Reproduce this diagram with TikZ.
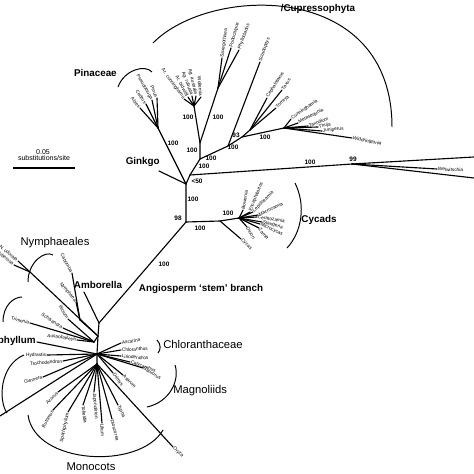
\documentclass[tikz,border=0pt]{standalone}
\usepackage{fontspec}
\setmainfont{Liberation Sans}
\tikzset{
  br/.style={line width=0.8pt, line cap=round},
  leaf/.style={font=\fontsize{3.4}{4}\selectfont, inner sep=0.5pt},
  boot/.style={font=\bfseries\fontsize{4.6}{5}\selectfont, inner sep=0.5pt},
  grp/.style={font=\fontsize{8}{9}\selectfont, inner sep=0pt},
  bgrp/.style={font=\bfseries\fontsize{7}{8}\selectfont, inner sep=0pt},
  brace/.style={line width=0.7pt},
}
\begin{document}
\begin{tikzpicture}[x=0.025cm, y=-0.025cm]
        \useasboundingbox (0,0) rectangle (474,474);

        % gymnosperm backbone
        \coordinate (g98) at (186,222);
        \coordinate (gA) at (186,184);
        \coordinate (gB) at (190,175);
        \coordinate (gC) at (200,159);
        \coordinate (arN) at (200,143);
        \coordinate (araN) at (194,106);
        \coordinate (podN) at (218,88);
        \coordinate (gS) at (228,146);
        \coordinate (gD) at (242,137);
        \coordinate (taxN) at (250,130);
        \coordinate (cupN) at (284,128);
        \coordinate (pinN) at (158,128);
        \coordinate (gnetN) at (352,164);
        \coordinate (cyA) at (220,221);
        \coordinate (cyN) at (239,218);
        \coordinate (aR) at (99,323);

        \draw[br] (g98) -- (gA) -- (gB) -- (gC) -- (arN) -- (araN);
        \draw[br] (arN) -- (podN);
        \draw[br] (gC) -- (gS) -- (gD) -- (cupN);
        \draw[br] (gD) -- (taxN);
        \draw[br] (gA) -- (pinN);
        \draw[br] (gB) -- (gnetN);
        \draw[br] (g98) -- (cyA) -- (cyN);
        \draw[br] (g98) -- (aR);

        % Ginkgo
        \coordinate (ginkgo) at (159,171);
        \draw[br] (gA) -- (ginkgo);
        \node[bgrp, anchor=south east] (tGinkgo) at (160,167) {Ginkgo};

        % Pinaceae
        \foreach \nm/\px/\py/\rt in {Pinus/157/98/-66, Pseudotsuga/152/100/-60, Cedrus/146/104/-56, Abies/140/108/-52}{
          \coordinate (t\nm) at (\px,\py);
          \draw[br] (pinN) -- (t\nm);
          \node[leaf, rotate=\rt, anchor=east] at (t\nm) {\nm};
        }
        \draw[brace] (118,87) .. controls (124,70) and (145,64) .. (152,72);
        \node[bgrp, anchor=east] (lPin) at (117,73) {Pinaceae};

        % Araucariaceae
        \foreach \nm/\px/\py/\rt in {Ar. cunninghamii/184/99/-54, Ar. bidwillii/188/97/-62, Ag. robusta/192/96/-70, Ag. australis/196/96/-77, Wollemia/201/97/-85}{
          \coordinate (tx) at (\px,\py);
          \draw[br] (araN) -- (tx);
          \node[leaf, rotate=\rt, anchor=east] at (tx) {\nm};
        }

        % Podocarpaceae
        \foreach \nm/\px/\py/\rt in {Saxegothaea/222/58/82, Podocarpus/231/48/75, Phyllocladus/239/50/70}{
          \coordinate (tx) at (\px,\py);
          \draw[br] (podN) -- (tx);
          \node[leaf, rotate=\rt, anchor=west] at (tx) {\nm};
        }

        % Sciadopitys
        \coordinate (tSciad) at (260,62);
        \draw[br] (gS) -- (tSciad);
        \node[leaf, rotate=70, anchor=west] at (tSciad) {Sciadopitys};

        % Taxaceae
        \foreach \nm/\px/\py/\rt in {Cephalotaxus/267/98/58, Taxus/282/90/55, Torreya/276/108/42}{
          \coordinate (tx) at (\px,\py);
          \draw[br] (taxN) -- (tx);
          \node[leaf, rotate=\rt, anchor=west] at (tx) {\nm};
        }

        % Cupressaceae
        \foreach \nm/\px/\py/\rt in {Cunninghamia/291/119/35, Metasequoia/298/123/28, Taxodium/308/126/20, Thuja/318/127/12, Juniperus/322/131/6, Widdringtonia/352/138/-12}{
          \coordinate (tx) at (\px,\py);
          \draw[br] (cupN) -- (tx);
          \node[leaf, rotate=\rt, anchor=west] at (tx) {\nm};
        }

        % Cupressophyta
        \draw[brace] (153,43) .. controls (210,-15) and (392,-20) .. (392,127);
        \node[bgrp] (lCup) at (318,9) {/Cupressophyta};

        % Gnetales
        \coordinate (gnet1) at (474,157);
        \coordinate (gnet2) at (474,178);
        \coordinate (welw) at (437,169);
        \draw[br] (gnetN) -- (gnet1);
        \draw[br] (gnetN) -- (gnet2);
        \draw[br] (gnetN) -- (welw);
        \node[leaf, anchor=west, rotate=-3] at (welw) {Welwitschia};

        % cycads
        \foreach \nm/\px/\py/\rt in {Bowenia/243/210/80, Encephalartos/250/212/68, Lepidozamia/253/212/45, Macrozamia/258/215/25, Ceratozamia/257/217/-8, Stangeria/262/222/-15, Microcycas/260/224/-25, Zamia/259/228/-50, Dioon/247/227/-58}{
          \coordinate (tx) at (\px,\py);
          \draw[br] (cyN) -- (tx);
          \node[leaf, rotate=\rt, anchor=west] at (tx) {\nm};
        }
        \coordinate (tCycas) at (241,239);
        \draw[br] (cyA) -- (tCycas);
        \node[leaf, rotate=-45, anchor=west] at (tCycas) {Cycas};
        \draw[brace] (295,183) .. controls (306,205) and (302,232) .. (287,248);
        \node[bgrp] (lCyc) at (319,220) {Cycads};

        % bootstrap values
        \node[boot] at (193,199) {100};
        \node[boot] at (178,218) {98};
        \node[boot] at (197,181) {<50};
        \node[boot] at (204,166) {100};
        \node[boot] at (211,158) {100};
        \node[boot] at (192,150) {100};
        \node[boot] at (188,117) {100};
        \node[boot] at (218,117) {100};
        \node[boot] at (173,143) {100};
        \node[boot] at (233,147) {100};
        \node[boot] at (236,135) {93};
        \node[boot] at (265,137) {100};
        \node[boot] at (310,162) {100};
        \node[boot] at (353,159) {99};
        \node[boot] at (200,228) {100};
        \node[boot] at (228,213) {100};
        \node[boot] at (164,264) {100};

        % scale bar
        \node[leaf, font=\fontsize{5}{6}\selectfont] at (43,152) {0.05};
        \node[leaf, font=\fontsize{5}{6}\selectfont] at (44,158) {substitutions/site};
        \draw[line width=0.8pt] (13,168) -- (75,168);

        % angiosperms
        \node[bgrp] (lStem) at (201,289) {Angiosperm `stem' branch};
        \coordinate (aN) at (98,336);
        \coordinate (aAu) at (94,342);
        \coordinate (aM) at (97,354);
        \coordinate (aMon) at (97,364);
        \draw[br] (aR) -- (aN) -- (aM) -- (aMon);

        \coordinate (tAmb) at (84,292);
        \draw[br] (aR) -- (tAmb);
        \node[bgrp] (lAmb) at (98,285) {Amborella};

        % Nymphaeales
        \coordinate (nymN) at (30,272);
        \draw[br] (aN) -- (nymN);
        \foreach \nm/\px/\py in {N. odorata/18/261, N. tuberosa/14/265}{
          \coordinate (tx) at (\px,\py);
          \draw[br] (nymN) -- (tx);
          \node[leaf, rotate=-40, anchor=east] at (tx) {\nm};
        }
        \coordinate (nymC) at (80,320);
        \foreach \nm/\px/\py/\rt in {Cabomba/72/273/-62, Nymphaea/76/302/-50}{
          \coordinate (tx) at (\px,\py);
          \draw[br] (nymC) -- (tx);
          \node[leaf, rotate=\rt, anchor=east] at (tx) {\nm};
        }
        \draw[br] (aN) -- (nymC);
        \draw[brace] (28,282) .. controls (28,262) and (45,250) .. (53,255);
        \node[grp] (lNym) at (55,243) {Nymphaeales};

        % Austrobaileyales
        \foreach \nm/\px/\py/\rt in {Trimenia/30/323/-15, Schisandra/63/328/-33, Illicium/68/319/-60, Austrobaileya/77/340/-8}{
          \coordinate (tx) at (\px,\py);
          \draw[br] (aAu) -- (tx);
          \node[leaf, rotate=\rt, anchor=east] at (tx) {\nm};
        }
        \draw[br] (aN) -- (aAu);
        \draw[brace] (3,322) .. controls (3,305) and (14,297) .. (22,297);

        % Ceratophyllum
        \coordinate (tCer) at (37,342);
        \draw[br] (aM) -- (tCer);
        \node[bgrp, anchor=east] (lCer) at (36,341) {Ceratophyllum};

        % eudicots
        \coordinate (tEud) at (0,416);
        \draw[br] (aM) -- (tEud);
        \foreach \nm/\px/\py/\rt in {Hydrastis/47/355/0, Trochodendron/63/361/5, Gunnera/43/377/15}{
          \coordinate (tx) at (\px,\py);
          \draw[br] (aM) -- (tx);
          \node[leaf, rotate=\rt, anchor=east] at (tx) {\nm};
        }
        \draw[brace] (24,355) .. controls (0,365) and (-2,400) .. (7,413);

        % Chloranthaceae and magnoliids
        \foreach \nm/\px/\py/\rt in {Ascarina/121/343/10, Chloranthus/121/350/3, Liriodendron/121/356/-5, Calycanthus/130/362/-20, Saururus/143/368/-30, Asarum/123/375/-45, Drimys/113/373/-55}{
          \coordinate (tx) at (\px,\py);
          \draw[br] (aM) -- (tx);
          \node[leaf, rotate=\rt, anchor=west] at (tx) {\nm};
        }
        \draw[brace] (157,340) .. controls (161,344) and (161,350) .. (158,353);
        \node[grp, anchor=west] (lChl) at (163,344) {Chloranthaceae};
        \draw[brace] (175,365) .. controls (180,380) and (170,402) .. (147,407);
        \node[grp, anchor=west] (lMag) at (173,391) {Magnoliids};

        % monocots
        \foreach \nm/\px/\py/\rt in {Acorus/58/392/45, Butomus/53/410/60, Spathiphyllum/68/412/78}{
          \coordinate (tx) at (\px,\py);
          \draw[br] (aMon) -- (tx);
          \node[leaf, rotate=\rt, anchor=east] at (tx) {\nm};
        }
        \foreach \nm/\px/\py/\rt in {Tofieldia/83/405/-82, Japonolirion/94/392/-85, Lilium/102/423/-87, Dioscorea/112/419/-75, Typha/118/405/-65, Oryza/173/447/-45}{
          \coordinate (tx) at (\px,\py);
          \draw[br] (aMon) -- (tx);
          \node[leaf, rotate=\rt, anchor=west] at (tx) {\nm};
        }
        \draw[brace] (28,415) .. controls (35,465) and (140,470) .. (163,430);
        \node[grp] (lMon) at (91,467) {Monocots};
    \end{tikzpicture}
\end{document}
